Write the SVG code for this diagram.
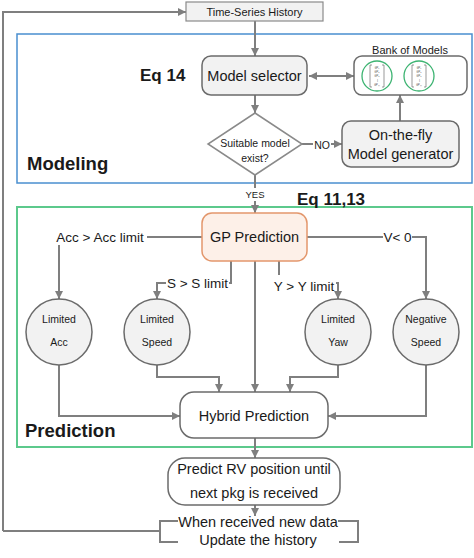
<svg xmlns="http://www.w3.org/2000/svg" width="474" height="558" viewBox="0 0 474 558">
<defs>
<marker id="ah" viewBox="0 0 10 10" refX="10" refY="5" markerWidth="8" markerHeight="8" markerUnits="userSpaceOnUse" orient="auto-start-reverse">
<path d="M0,0 L10,5 L0,10 Z" fill="#7f7f7f"/>
</marker>
</defs>
<style>
text{font-family:"Liberation Sans",Arial,sans-serif;fill:#1a1a1a}
.c{text-anchor:middle;dominant-baseline:central}
.ln{fill:none;stroke:#7f7f7f;stroke-width:2}
.ar{marker-end:url(#ah)}
.nd{fill:#f2f2f2;stroke:#6b6b6b;stroke-width:1.5}
.wn{fill:#fff;stroke:#6b6b6b;stroke-width:1.5}
.big{font-weight:bold;font-size:18.5px}
.eq{font-weight:bold;font-size:17px}
.m{font-size:14.5px}
.lb{font-size:13.5px}
.s{font-size:10.5px}
.t{font-size:3px;fill:#555}
</style>
<rect x="17" y="34" width="455" height="149" fill="none" stroke="#4a8fcf" stroke-width="1.5"/>
<rect x="17" y="207" width="455" height="240" fill="none" stroke="#5cc98c" stroke-width="2"/>
<text x="27" y="170" class="big">Modeling</text>
<text x="25" y="437" class="big">Prediction</text>
<text x="140" y="81" class="eq">Eq 14</text>
<text x="297" y="205" class="eq">Eq 11,13</text>
<g id="connectors">
<path class="ln ar" d="M3,531 V12 H186"/>
<path class="ln ar" d="M255,21 V56"/>
<path class="ln ar" d="M255,95 V113"/>
<path class="ln" d="M255,175 V188"/>
<path class="ln ar" d="M255,201 V213"/>
<text x="255" y="194.5" class="c" style="font-size:9.5px">YES</text>
<path class="ln" d="M302,144 H313"/>
<text x="322" y="145" class="c" style="font-size:10.5px">NO</text>
<path class="ln ar" d="M331,144 H342"/>
<path class="ln ar" d="M400,121 V95"/>
<path class="ln ar" d="M309,76 H354" marker-start="url(#ah)"/>
<path class="ln" d="M202,237 H147"/>
<text x="100" y="237" class="c lb">Acc &gt; Acc limit</text>
<path class="ln ar" d="M59,245 V299"/>
<path class="ln" d="M307,237 H383"/>
<text x="397.5" y="237" class="c lb">V&lt; 0</text>
<path class="ln ar" d="M412,237 H426 V299"/>
<path class="ln" d="M231,261 V283 H229"/>
<text x="197.5" y="283" class="c lb">S &gt; S limit</text>
<path class="ln ar" d="M166,283 H157 V299"/>
<path class="ln" d="M279,261 V275"/>
<text x="304" y="286" class="c lb">Y &gt; Y limit</text>
<path class="ln ar" d="M336,283 H338 V299"/>
<path class="ln ar" d="M255,261 V392"/>
<path class="ln ar" d="M59,365 V416 H180"/>
<path class="ln ar" d="M157,365 V377 H219 V392"/>
<path class="ln ar" d="M338,365 V377 H290 V392"/>
<path class="ln ar" d="M426,365 V416 H328"/>
<path class="ln ar" d="M255,438 V458"/>
<path class="ln ar" d="M255,505 V516"/>
<path class="ln" d="M3,531 H160 M178,521 H160 V542 H178 M338,521 H358 V542 H339"/>
</g>
<g id="history">
<rect x="186" y="2" width="137" height="19" fill="#f2f2f2" stroke="#8a8a8a" stroke-width="1.2"/>
<text x="254.5" y="11.5" class="c" style="font-size:11px">Time-Series History</text>
</g>
<g id="model-selector">
<rect x="202" y="56" width="105" height="39" rx="9" class="nd"/>
<text x="254.5" y="76" class="c m">Model selector</text>
</g>
<g id="bank">
<text x="410" y="50" class="c" style="font-size:11px">Bank of Models</text>
<rect x="354" y="56" width="113" height="39" rx="8" class="wn"/>
<circle cx="377" cy="76" r="15" fill="#fff" stroke="#3cb371" stroke-width="1.3"/>
<circle cx="419" cy="76" r="15" fill="#fff" stroke="#3cb371" stroke-width="1.3"/>
<path d="M372,65 h-2 v22 h2 M382,65 h2 v22 h-2 M414,65 h-2 v22 h2 M424,65 h2 v22 h-2" fill="none" stroke="#555" stroke-width="0.6"/>
<text x="377" y="68" class="c t">θP₁</text><text x="377" y="72" class="c t">θP₂</text><text x="377" y="76" class="c t">θP₃</text><text x="377" y="80" class="c t">⋮</text><text x="377" y="85" class="c t">θPₘ</text>
<text x="419" y="68" class="c t">θP₁</text><text x="419" y="72" class="c t">θP₂</text><text x="419" y="76" class="c t">θP₃</text><text x="419" y="80" class="c t">⋮</text><text x="419" y="85" class="c t">θPₘ</text>
</g>
<g id="decision">
<path d="M255,113 L302,144 L255,175 L208,144 Z" class="wn" style="stroke:#8a8a8a"/>
<text x="255" y="143" class="c s">Suitable model</text>
<text x="255" y="158" class="c s">exist?</text>
</g>
<g id="generator">
<rect x="342" y="121" width="117" height="46" rx="9" class="nd"/>
<text x="400.5" y="135" class="c m">On-the-fly</text>
<text x="400.5" y="154" class="c m">Model generator</text>
</g>
<g id="gp">
<rect x="202" y="213" width="105" height="48" rx="10" fill="#fdf0e8" stroke="#e3976c" stroke-width="1.5"/>
<text x="254.5" y="237" class="c m">GP Prediction</text>
</g>
<g id="limited-acc">
<circle cx="59" cy="332" r="33" class="nd"/>
<text x="59" y="319" class="c s">Limited</text>
<text x="59" y="342" class="c s">Acc</text>
</g>
<g id="limited-speed">
<circle cx="157" cy="332" r="33" class="nd"/>
<text x="157" y="319" class="c s">Limited</text>
<text x="157" y="342" class="c s">Speed</text>
</g>
<g id="limited-yaw">
<circle cx="338" cy="332" r="33" class="nd"/>
<text x="338" y="319" class="c s">Limited</text>
<text x="338" y="342" class="c s">Yaw</text>
</g>
<g id="negative-speed">
<circle cx="426" cy="332" r="33" class="nd"/>
<text x="426" y="319" class="c s">Negative</text>
<text x="426" y="342" class="c s">Speed</text>
</g>
<g id="hybrid">
<rect x="180" y="392" width="148" height="46" rx="14" class="wn"/>
<text x="254" y="416" class="c m">Hybrid Prediction</text>
</g>
<g id="predict-rv">
<rect x="168" y="458" width="172" height="47" rx="17" class="wn"/>
<text x="254" y="469" class="c m">Predict RV position until</text>
<text x="254" y="493" class="c m">next pkg is received</text>
</g>
<g id="update">
<text x="258" y="522" class="c m">When received new data</text>
<text x="258" y="540" class="c m">Update the history</text>
</g>
</svg>
